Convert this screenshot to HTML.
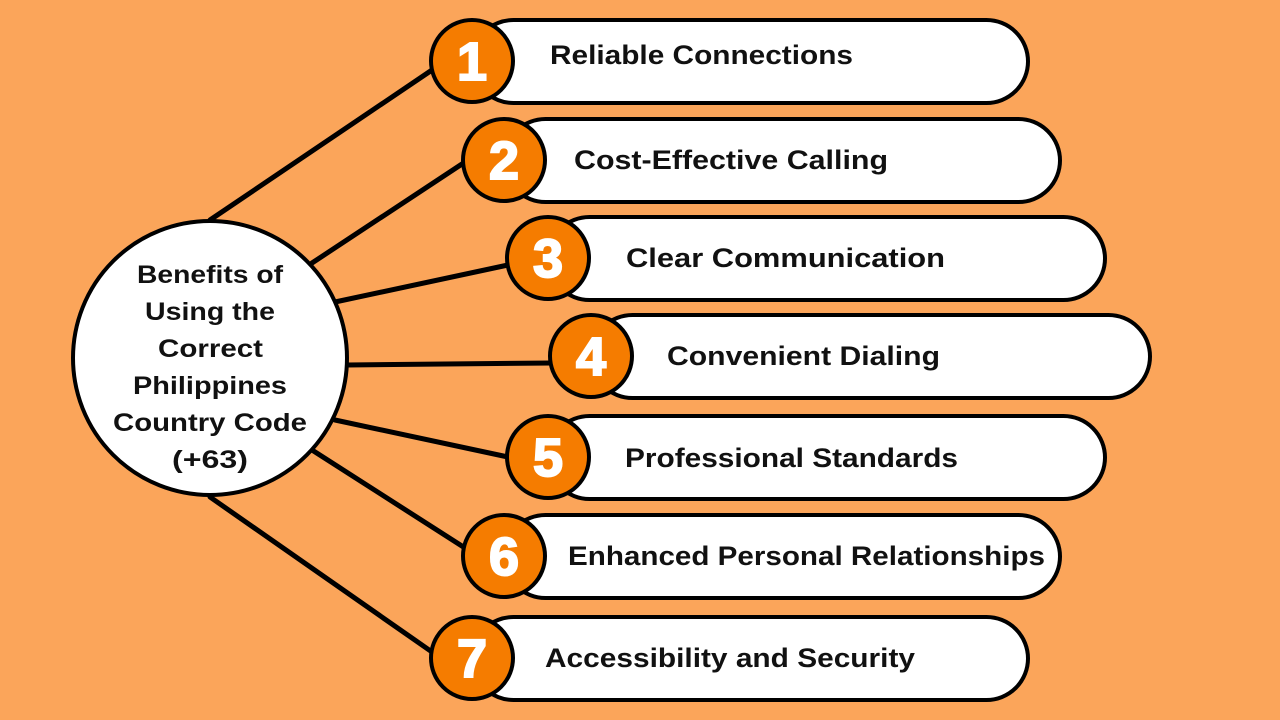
<!DOCTYPE html>
<html><head><style>
body{margin:0;width:1280px;height:720px;background:#FBA55A;overflow:hidden}
svg{display:block}
text{font-family:"Liberation Sans",sans-serif;font-weight:bold}
</style></head><body>
<svg width="1280" height="720" viewBox="0 0 1280 720">
<rect width="1280" height="720" fill="#FBA55A"/>
<g stroke="#000" stroke-width="5" stroke-linecap="round">
<line x1="210" y1="220" x2="432" y2="70"/>
<line x1="312" y1="263" x2="465" y2="162"/>
<line x1="335" y1="302" x2="508" y2="265"/>
<line x1="347" y1="365" x2="552" y2="363"/>
<line x1="335" y1="420" x2="508" y2="457"/>
<line x1="312" y1="450" x2="465" y2="548"/>
<line x1="210" y1="497" x2="432" y2="652"/>
</g>
<g stroke="#000" stroke-width="4">
<rect x="472" y="20" width="556" height="83" rx="41.5" fill="#fff"/>
<rect x="504" y="119" width="556" height="83" rx="41.5" fill="#fff"/>
<rect x="548" y="217" width="557" height="83" rx="41.5" fill="#fff"/>
<rect x="591" y="315" width="559" height="83" rx="41.5" fill="#fff"/>
<rect x="548" y="416" width="557" height="83" rx="41.5" fill="#fff"/>
<rect x="504" y="515" width="556" height="83" rx="41.5" fill="#fff"/>
<rect x="472" y="617" width="556" height="83" rx="41.5" fill="#fff"/>
<g fill="#F57C00">
<circle cx="472" cy="61" r="41"/>
<circle cx="504" cy="160" r="41"/>
<circle cx="548" cy="258" r="41"/>
<circle cx="591" cy="356" r="41"/>
<circle cx="548" cy="457" r="41"/>
<circle cx="504" cy="556" r="41"/>
<circle cx="472" cy="658" r="41"/>
</g>
<circle cx="210" cy="358" r="137" fill="#fff"/>
</g>
<g fill="#fff" font-size="54" text-anchor="middle" stroke="#fff" stroke-width="2">
<text x="472" y="80">1</text>
<text x="504" y="179">2</text>
<text x="548" y="277">3</text>
<text x="591" y="375">4</text>
<text x="548" y="476">5</text>
<text x="504" y="575">6</text>
<text x="472" y="677">7</text>
</g>
<g fill="#111" font-size="27" lengthAdjust="spacingAndGlyphs">
<text x="550" y="64" textLength="303" lengthAdjust="spacingAndGlyphs">Reliable Connections</text>
<text x="574" y="169" textLength="314" lengthAdjust="spacingAndGlyphs">Cost-Effective Calling</text>
<text x="626" y="267" textLength="319" lengthAdjust="spacingAndGlyphs">Clear Communication</text>
<text x="667" y="365" textLength="273" lengthAdjust="spacingAndGlyphs">Convenient Dialing</text>
<text x="625" y="467" textLength="333" lengthAdjust="spacingAndGlyphs">Professional Standards</text>
<text x="568" y="565" textLength="477" lengthAdjust="spacingAndGlyphs">Enhanced Personal Relationships</text>
<text x="545" y="667" textLength="370" lengthAdjust="spacingAndGlyphs">Accessibility and Security</text>
</g>
<g fill="#111" font-size="25">
<text x="137" y="283" textLength="146" lengthAdjust="spacingAndGlyphs">Benefits of</text>
<text x="145" y="320" textLength="130" lengthAdjust="spacingAndGlyphs">Using the</text>
<text x="158" y="357" textLength="105" lengthAdjust="spacingAndGlyphs">Correct</text>
<text x="133" y="394" textLength="154" lengthAdjust="spacingAndGlyphs">Philippines</text>
<text x="113" y="431" textLength="194" lengthAdjust="spacingAndGlyphs">Country Code</text>
<text x="172" y="468" textLength="76" lengthAdjust="spacingAndGlyphs">(+63)</text>
</g>
</svg>
</body></html>
